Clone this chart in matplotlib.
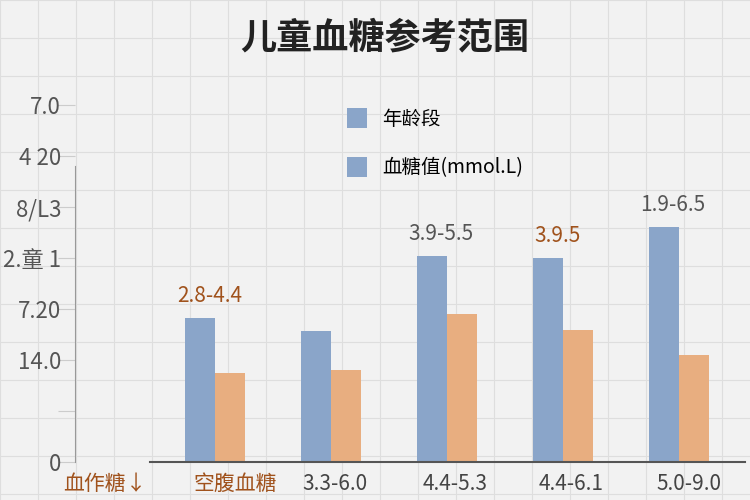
import matplotlib
matplotlib.use("Agg")
import matplotlib.pyplot as plt
import numpy as np

plt.rcParams['font.family'] = ['Noto Sans CJK SC', 'DejaVu Sans']

title = "儿童血糖参考范围"
legend_labels = ["年龄段", "血糖值(mmol.L)"]
x_labels = ["血作糖↓", "空腹血糖", "3.3-6.0", "4.4-5.3", "4.4-6.1", "5.0-9.0"]
x_label_pos = [-0.95, 0.17, 1.03, 2.07, 3.07, 4.09]
blue_vals = [2.82, 2.57, 4.04, 4.0, 4.61]
orange_vals = [1.75, 1.80, 2.90, 2.59, 2.10]
bar_texts = ["2.8-4.4", "", "3.9-5.5", "3.9.5", "1.9-6.5"]
bar_text_colors = ["#a0521c", "#555555", "#555555", "#a0521c", "#555555"]
y_ticks = [0, 1, 2, 3, 4, 5, 6, 7]
y_ticklabels = ["0", "", "14.0", "7.20", "2.童 1", "8/L3", "4 20", "7.0"]

blue = "#8aa5c9"
orange = "#e8ae80"

fig = plt.figure(figsize=(7.5, 5), dpi=100)
fig.patch.set_facecolor("#f2f2f2")
bg = fig.add_axes([0, 0, 1, 1])
bg.set_xlim(0, 750); bg.set_ylim(500, 0)
for x in np.arange(0, 750, 38):
    bg.axvline(x, color="#dedede", lw=0.8)
for y in np.arange(0, 500, 38):
    bg.axhline(y, color="#dedede", lw=0.8)
bg.set_facecolor("#f2f2f2")
bg.axis("off")

ax = fig.add_axes([75/750, 38/500, 670/750, 357/500])
ax.patch.set_alpha(0)
x = np.arange(len(blue_vals))
w = 0.26
ax.bar(x - w/2, blue_vals, w, color=blue, label=legend_labels[0])
ax.bar(x + w/2, orange_vals, w, color=orange)
ax.bar([np.nan], [0], color=blue, label=legend_labels[1])
for i, t in enumerate(bar_texts):
    if t:
        ax.text(x[i] - 0.05, blue_vals[i] + 0.22, t, ha="center", va="bottom",
                fontsize=15, color=bar_text_colors[i])
ax.set_xlim(-1.21, 4.57)
ax.set_ylim(0, 7)
ax.set_yticks(y_ticks)
ax.set_yticklabels(y_ticklabels, fontsize=16, color="#555555")
ax.tick_params(axis="y", length=12, color="#cccccc", pad=-2)
ax.set_xticks(x_label_pos)
ax.set_xticklabels(x_labels, fontsize=15)
for i, lbl in enumerate(ax.get_xticklabels()):
    lbl.set_color("#a0521c" if i < 2 else "#444444")
ax.tick_params(axis="x", length=0, pad=8)
for s in ["top", "right", "bottom"]:
    ax.spines[s].set_visible(False)
ax.spines["left"].set_color("#999999")
ax.spines["left"].set_bounds(0, 5.8)
ax.plot([-0.56, 4.57], [0, 0], color="#555555", lw=1.5, clip_on=False)
ax.legend(loc="upper left", bbox_to_anchor=(0.38, 1.04), frameon=False,
          fontsize=14, labelspacing=1.4, handlelength=1.0, handleheight=1.2)
fig.text(0.513, 0.925, title, ha="center", va="center", fontsize=26,
         fontweight="bold", color="#222222")
fig.savefig("out.png", dpi=100, facecolor=fig.get_facecolor())
